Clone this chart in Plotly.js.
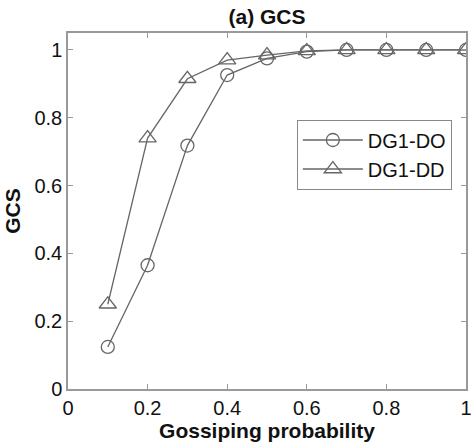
<!DOCTYPE html>
<html><head><script src="https://cdn.plot.ly/plotly-3.0.1.min.js"></script>
<style>body{margin:0;background:#fff}#c{width:474px;height:447px}</style></head>
<body><div id="c"></div>
<script>
const xs = [0.1,0.2,0.3,0.4,0.5,0.6,0.7,0.8,0.9,1.0];
const do_ = [0.124,0.365,0.718,0.926,0.975,0.995,1,1,1,1];
const dd = [0.25,0.74,0.915,0.97,0.985,0.997,1,1,1,1];
const tickv = [0,0.2,0.4,0.6,0.8,1];
const tickt = ['0','0.2','0.4','0.6','0.8','1'];
const col = '#666';
const F = 'Arial, Liberation Sans, sans-serif';
const traces = [
 {x:xs,y:do_,name:'DG1-DO',mode:'lines+markers',line:{color:col,width:1.3},
  marker:{symbol:'circle-open',size:13,color:col,line:{width:1.3,color:col}}},
 {x:xs,y:dd,name:'DG1-DD',mode:'lines+markers',line:{color:col,width:1.3},
  marker:{symbol:'triangle-up-open',size:15,color:col,line:{width:1.3,color:col}}}
];
const axBase = {showgrid:false,zeroline:false,showline:true,linecolor:'#999',linewidth:1.5,
  mirror:'ticks',ticks:'inside',ticklen:5,tickcolor:'#999',
  tickfont:{family:F,size:20,color:'#111'}};
const layout = {
 width:474,height:447,margin:{l:68,r:8,t:33,b:58},
 paper_bgcolor:'#fff',plot_bgcolor:'#fff',
 title:{text:'<b>(a) GCS</b>',font:{family:F,size:21,color:'#111'},xref:'paper',x:0.5,xanchor:'center',yref:'container',y:0.962,yanchor:'middle'},
 xaxis:Object.assign({},axBase,{range:[0,1],tickvals:tickv,ticktext:tickt,
   title:{text:'<b>Gossiping probability</b>',font:{family:F,size:21,color:'#111'},standoff:6}}),
 yaxis:Object.assign({},axBase,{range:[0,1.05],tickvals:tickv,ticktext:tickt,
   title:{text:'<b>GCS</b>',font:{family:F,size:21,color:'#111'},standoff:8}}),
 legend:{x:0.575,y:0.757,xanchor:'left',yanchor:'top',bordercolor:'#888',borderwidth:1,bgcolor:'#fff',
   font:{family:F,size:20,color:'#111'},tracegroupgap:0,itemwidth:60},
 showlegend:true
};
Plotly.newPlot('c',traces,layout,{displayModeBar:false});
</script></body></html>
